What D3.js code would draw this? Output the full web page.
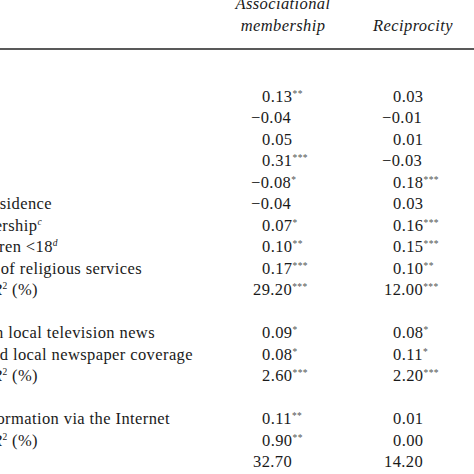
<!DOCTYPE html><html><head><meta charset="utf-8">
<script src="https://cdn.jsdelivr.net/npm/d3@7"></script>
<style>body{margin:0;background:#fff}svg{display:block}text{font-family:"Liberation Serif","DejaVu Serif",serif;fill:#1a1a1a;letter-spacing:0.4px}</style>
</head><body><svg id="c" width="474" height="474"></svg>
<script>
const labels=["","","","","","Length of residence","Homeownership|c","Children <18|d","Attendance of religious services","Incremental R2 (%)","Watch local television news","Read local newspaper coverage","Incremental R2 (%)","Seek information via the Internet","Incremental R2 (%)",""];
const rowPos=[0,1,2,3,4,5,6,7,8,9,11,12,13,15,16,17];
const assoc=["0.13","−0.04","0.05","0.31","−0.08","−0.04","0.07","0.10","0.17","29.20","0.09","0.08","2.60","0.11","0.90","32.70"];
const assocSig=["**","","","***","*","","*","**","***","***","*","*","***","**","**",""];
const recip=["0.03","−0.01","0.01","−0.03","0.18","0.03","0.16","0.15","0.10","12.00","0.08","0.11","2.20","0.01","0.00","14.20"];
const recipSig=["","","","","***","","***","***","**","***","*","*","***","","",""];
const labelEnds=[0,0,0,0,0,52,42,58,142,38,155,193,38,170,38,0];
const svg=d3.select("#c");
const y=d3.scaleLinear().domain([0,17]).range([102,467]);
svg.append("line").attr("x1",0).attr("x2",474).attr("y1",49).attr("y2",49).attr("stroke","#222").attr("stroke-width",1.6);
const hdr=[["Associational",283,9],["membership",283,31],["Reciprocity",413,31]];
hdr.forEach(h=>svg.append("text").attr("x",h[1]).attr("y",h[2]).attr("text-anchor","middle").attr("font-style","italic").attr("font-size",16.5).text(h[0]));
function num(x,v,s,yy){const neg=v.startsWith("−");const wide=v.length>=5&&!neg;const t=svg.append("text").attr("x",neg?x-11:(wide?x-9:x)).attr("y",yy).attr("font-size",16.5);
 t.append("tspan").text(v); if(s) t.append("tspan").attr("font-size",9.5).attr("dy",-5).attr("fill","#555").text(s);}
labels.forEach((l,i)=>{const yy=y(rowPos[i]);
 if(l){let [main,sup]=l.split("|");const t=svg.append("text").attr("x",labelEnds[i]).attr("y",yy).attr("text-anchor","end").attr("font-size",16.5);
  if(main.includes("R2")){const p=main.split("R2");t.append("tspan").text(p[0]);t.append("tspan").attr("font-style","italic").text("R");t.append("tspan").attr("font-size",9.5).attr("dy",-6).text("2");t.append("tspan").attr("dy",6).text(p[1]);}
  else{t.append("tspan").text(main); if(sup) t.append("tspan").attr("font-size",9.5).attr("font-style","italic").attr("dy",-6).text(sup);}}
 num(262,assoc[i],assocSig[i],yy); num(393,recip[i],recipSig[i],yy);});
</script></body></html>
